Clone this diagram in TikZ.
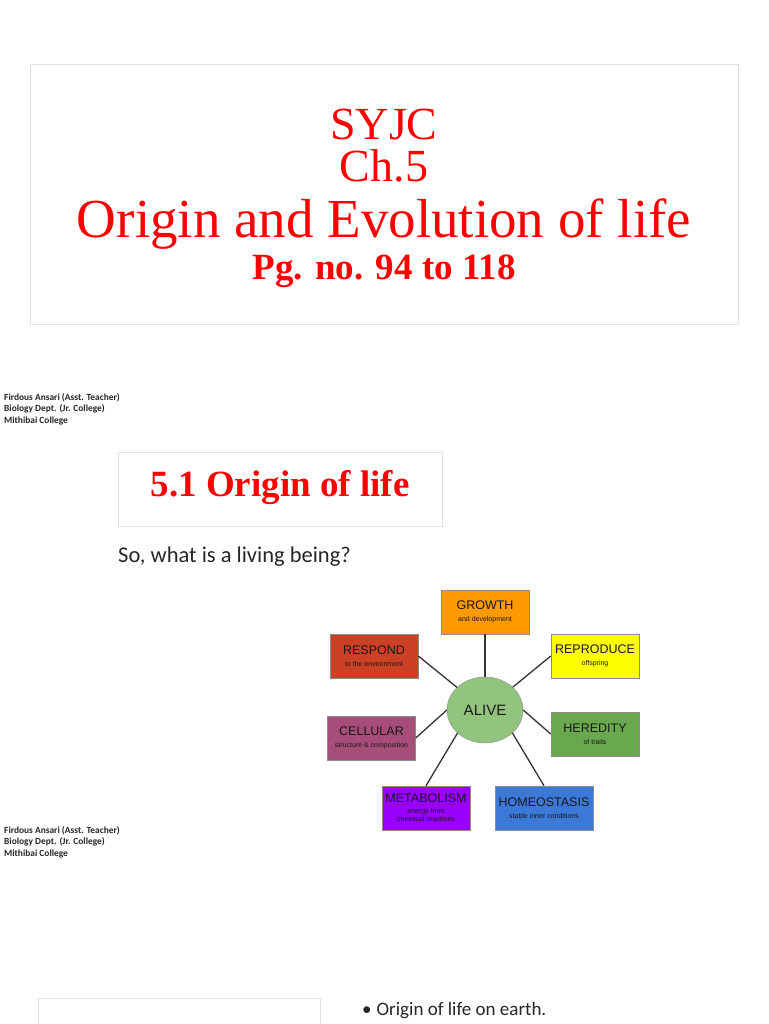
\documentclass[tikz,border=0pt]{standalone}
\usepackage{fontspec}
\setmainfont{Liberation Serif}
\setsansfont{Liberation Sans}
\newfontfamily\calibri{Carlito}
\usetikzlibrary{shapes.geometric}

\definecolor{cgrowth}{HTML}{FF9900}
\definecolor{crespond}{HTML}{CC4125}
\definecolor{creproduce}{HTML}{FFFF00}
\definecolor{ccellular}{HTML}{A64D79}
\definecolor{cheredity}{HTML}{6AA84F}
\definecolor{cmetabolism}{HTML}{9900FF}
\definecolor{chomeostasis}{HTML}{3C78D8}
\definecolor{calive}{HTML}{93C47D}
\newcommand{\titulo}[1]{{\fontsize{12.5}{13}\selectfont #1}}

\begin{document}
\begin{tikzpicture}[x=1pt,y=-1pt,
    marco/.style={draw=black!12,line width=0.8pt},
    caja/.style={draw=black!45,line width=0.5pt,minimum width=88pt,
      minimum height=44pt,inner sep=1pt,align=center,text=black!90,
      font=\sffamily\fontsize{7}{8}\selectfont},
    rama/.style={draw=black!80,line width=1.3pt},
    pie/.style={anchor=north west,inner sep=0pt,align=left,text=black!85,
      font=\calibri\bfseries\fontsize{9.4}{11.5}\selectfont}]
    \useasboundingbox (0,0) rectangle (768,1024);
    \fill[white] (0,0) rectangle (768,1024);
    % portada con el titulo del capitulo
    \draw[marco] (30,64) rectangle (738,324);
    \node[red,anchor=base,font=\fontsize{46}{50}\selectfont] (syjc) at (384,140) {SYJC};
    \node[red,anchor=base,font=\fontsize{46}{50}\selectfont] (cap) at (384,182) {Ch.5};
    \node[red,anchor=base,font=\fontsize{55}{60}\selectfont] (tema) at (384,237)
      {Origin and Evolution of life};
    \node[red,anchor=base,font=\bfseries\fontsize{37}{40}\selectfont] (pag) at (384,279)
      {Pg. no. 94 to 118};
    % pie del profesor, primera vez
    \node[pie] (pie1) at (4,393)
      {Firdous Ansari (Asst. Teacher)\\Biology Dept. (Jr. College)\\Mithibai College};
    % seccion 5.1
    \draw[marco] (118,452) rectangle (442,526);
    \node[red,font=\bfseries\fontsize{37}{40}\selectfont] (secc) at (280,488) {5.1 Origin of life};
    \node[anchor=base west,inner sep=0pt,text=black!85,font=\calibri\fontsize{22.5}{26}\selectfont]
      (pregunta) at (118,562) {So, what is a living being?};
    % rasgos de lo vivo alrededor de ALIVE
    \node[ellipse,fill=calive,draw=black!45,minimum width=76pt,minimum height=66pt,
      inner sep=0pt,text=black!90,font=\sffamily\fontsize{15}{16}\selectfont] (alive) at (485,710) {ALIVE};
    \node[caja,fill=cgrowth] (growth) at (485,612)
      {\titulo{GROWTH}\\[4pt]and development};
    \node[caja,fill=crespond] (respond) at (374,656)
      {\titulo{RESPOND}\\[4pt]to the environment};
    \node[caja,fill=creproduce] (reproduce) at (595,656)
      {\titulo{REPRODUCE}\\[4pt]offspring};
    \node[caja,fill=ccellular] (cellular) at (371.5,738)
      {\titulo{CELLULAR}\\[4pt]structure \& composition};
    \node[caja,fill=cheredity] (heredity) at (595,734)
      {\titulo{HEREDITY}\\[4pt]of traits};
    \node[caja,fill=cmetabolism] (metabolism) at (426,808)
      {\titulo{METABOLISM}\\[3pt]energy from\\chemical reactions};
    \node[caja,fill=chomeostasis,minimum width=98pt] (homeostasis) at (544,808)
      {\titulo{HOMEOSTASIS}\\[4pt]stable inner conditions};
    \draw[rama] (growth) -- (alive);
    \draw[rama] (respond.east) -- (alive);
    \draw[rama] (reproduce.west) -- (alive);
    \draw[rama] (cellular.east) -- (alive.west);
    \draw[rama] (heredity.west) -- (alive.east);
    \draw[rama] (metabolism.north) -- (alive.220);
    \draw[rama] (homeostasis.north) -- (alive.320);
    % pie del profesor, segunda vez
    \node[pie] (pie2) at (4,826)
      {Firdous Ansari (Asst. Teacher)\\Biology Dept. (Jr. College)\\Mithibai College};
    % siguiente diapositiva, cortada abajo
    \draw[marco] (38,998) rectangle (320,1040);
    \node[anchor=base west,inner sep=0pt,text=black!85,font=\calibri\fontsize{19}{22}\selectfont]
      (punto) at (362,1015) {\textbullet\hspace{5pt}Origin of life on earth.};
\end{tikzpicture}
\end{document}
